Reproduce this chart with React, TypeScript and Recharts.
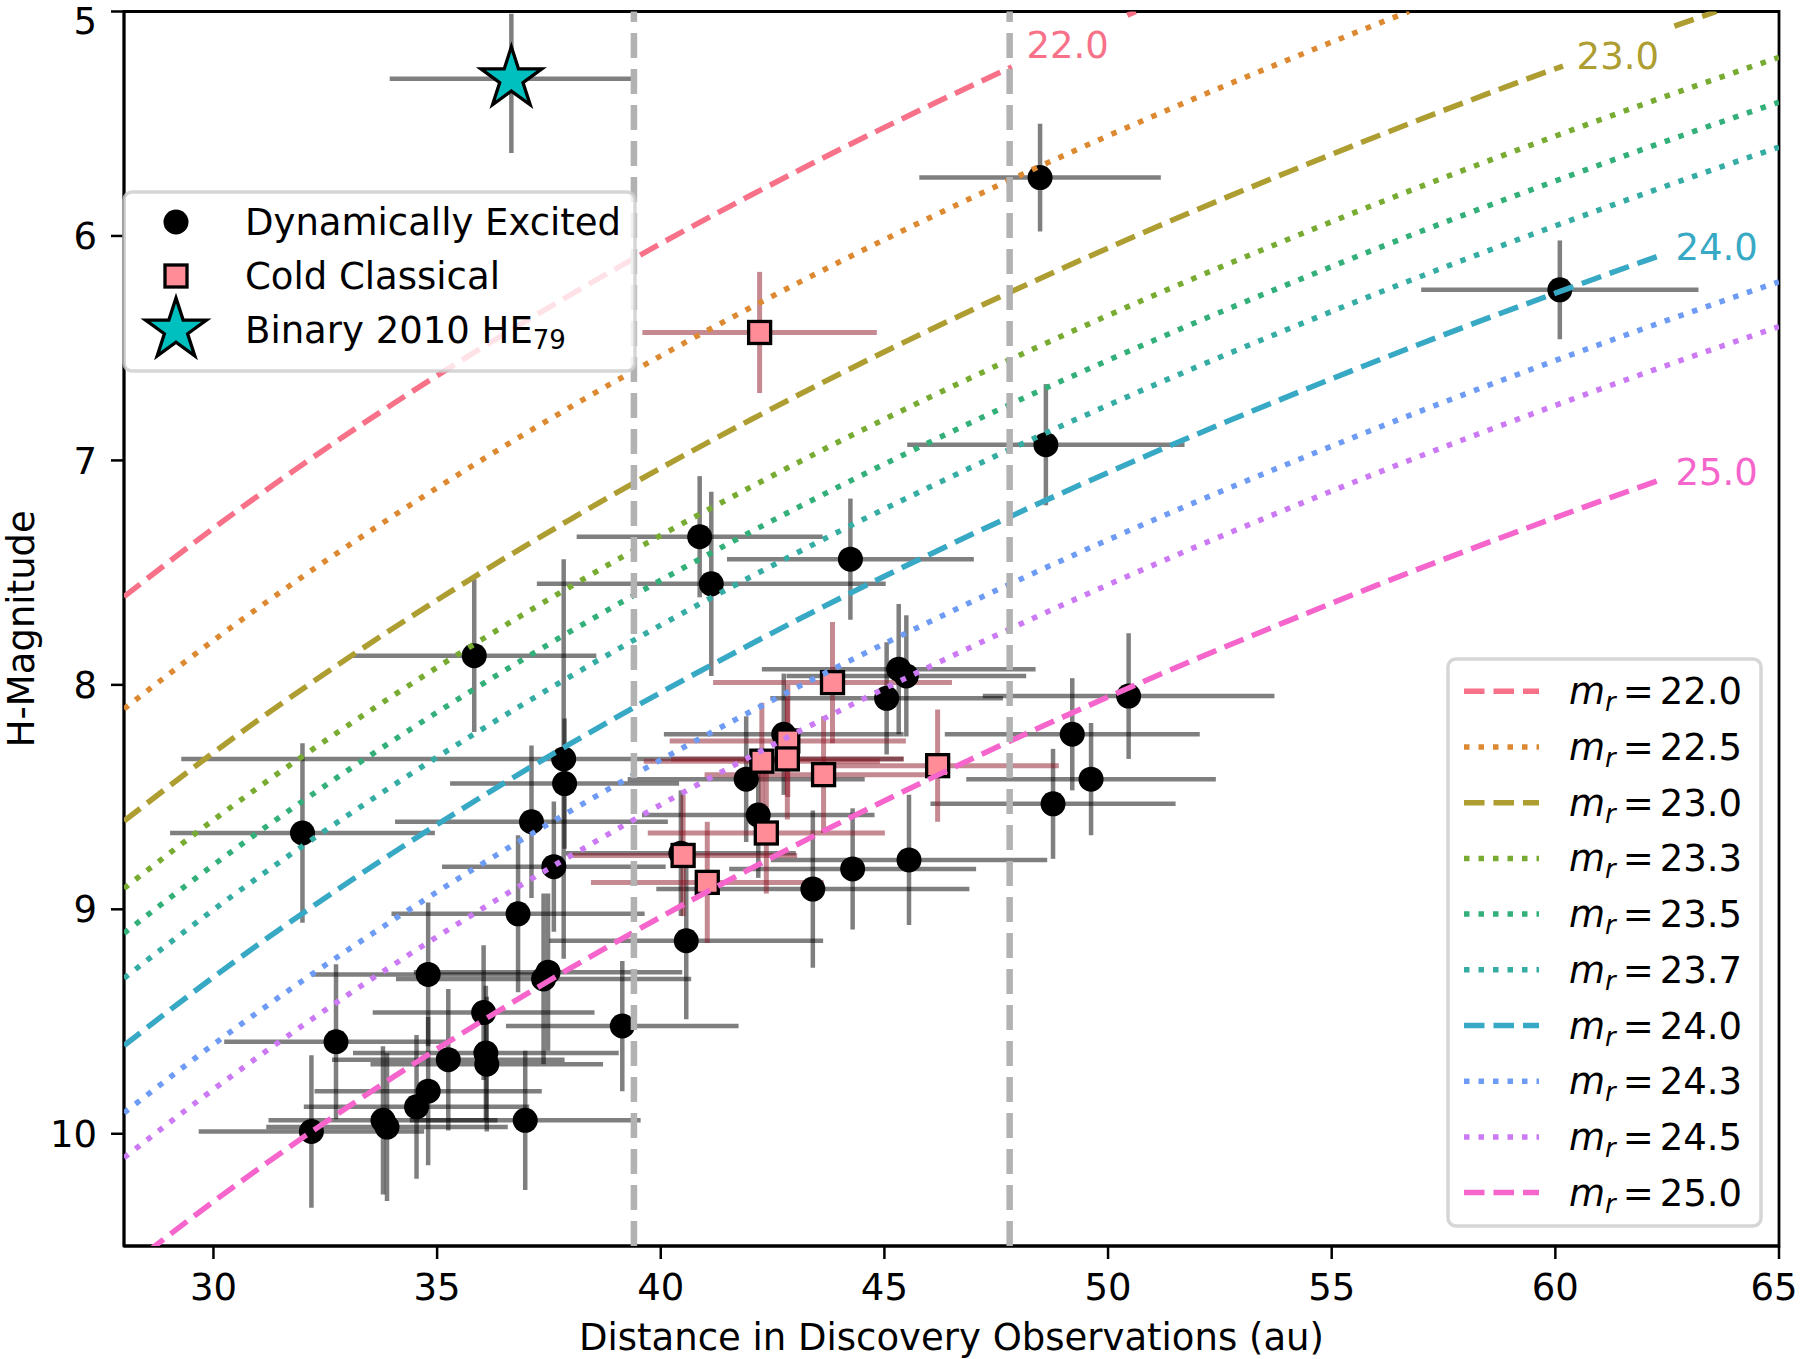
import React from 'react';
import {
  ComposedChart,
  Scatter,
  Line,
  XAxis,
  YAxis,
  ErrorBar,
  ReferenceLine,
  ReferenceArea,
  Legend,
} from 'recharts';

const FONT = "'DejaVu Sans', 'Liberation Sans', sans-serif";
const FS = 37;

// ---------------- data ----------------
// Dynamically excited objects
const excitedDist = [
  48.48, 60.1, 48.61, 40.87, 44.24, 41.13, 35.83, 45.32, 45.49, 45.05,
  50.46, 49.2, 49.62, 48.77, 45.55, 44.29, 43.4, 42.75, 41.91, 42.18,
  40.45, 40.57, 37.83, 37.85, 37.11, 37.61, 31.99, 36.81, 34.8, 37.38,
  37.48, 36.04, 39.14, 32.74, 35.25, 36.09, 36.11, 34.8, 34.54, 33.79,
  33.88, 36.97, 32.19,
];
const excitedH = [
  5.74, 6.24, 6.93, 7.34, 7.44, 7.55, 7.87, 7.93, 7.96, 8.06,
  8.05, 8.22, 8.42, 8.53, 8.78, 8.82, 8.91, 8.22, 8.42, 8.58,
  8.75, 9.14, 8.33, 8.44, 8.61, 8.81, 8.66, 9.02, 9.29, 9.31,
  9.28, 9.46, 9.52, 9.59, 9.67, 9.64, 9.69, 9.81, 9.88, 9.94,
  9.97, 9.94, 9.99,
];
const excitedDistErr: (number | [number, number])[] = [
  2.7, 3.1, 3.1, 2.75, 2.76, 3.9, 2.73, 3.06, 2.68, 2.6,
  3.26, 2.85, 2.79, 2.74, 3.09, 2.76, 3.5, 2.68, 2.65, 2.6,
  2.57, 3.06, [8.55, 7.6], 2.56, 3.05, 2.5, 2.96, 2.83, 2.6, 3.3,
  3.0, 2.48, 2.6, 2.5, 2.6, 2.97, 2.6, 2.54, 2.52, 2.56,
  2.7, 2.58, 2.52,
];
const excitedHErr = [
  0.24, 0.22, 0.27, 0.27, 0.27, 0.41, 0.34, 0.29, 0.27, 0.25,
  0.28, 0.25, 0.25, 0.245, 0.29, 0.27, 0.35, 0.27, 0.28, 0.28,
  0.28, 0.35, 0.89, 0.29, 0.34, 0.29, 0.4, 0.35, 0.32, 0.38,
  0.35, 0.3, 0.29, 0.345, 0.315, 0.3, 0.3, 0.33, 0.32, 0.33,
  0.33, 0.31, 0.34,
];

// Cold classical objects
const coldDist = [42.21, 43.84, 42.84, 42.26, 42.83, 43.64, 46.19, 42.36, 40.5, 41.04];
const coldH = [6.43, 7.99, 8.25, 8.34, 8.33, 8.4, 8.36, 8.66, 8.76, 8.88];
const coldDistErr = [2.62, 2.67, 2.64, 2.64, 2.6, 2.66, 2.71, 2.65, 2.55, 2.6];
const coldHErr = [0.27, 0.27, 0.25, 0.26, 0.27, 0.26, 0.25, 0.27, 0.27, 0.27];

// Binary 2010 HE79
const binaryDist = [36.66];
const binaryH = [5.3];
const binaryDistErr = [2.72];
const binaryHErr: [number, number][] = [[0.29, 0.33]];

// axes
const distTicks = [30, 35, 40, 45, 50, 55, 60, 65];
const hTicks = [5, 6, 7, 8, 9, 10];
const distDomain = [28, 65];
const hDomain = [5, 10.5];
const boundaryDist = [39.4, 47.8];

// constant apparent-magnitude curves
const mr220Dist = [28, 30, 32, 34, 36, 38, 40, 42, 44, 46, 47.85];
const mr220H = [7.607, 7.302, 7.017, 6.75, 6.498, 6.26, 6.034, 5.82, 5.615, 5.42, 5.247];
const mr220bDist = [50.43, 50.62];
const mr220bH = [5.017, 5.0];

const mr225Dist = [28, 30, 32, 34, 36, 38, 40, 42, 44, 46, 48, 50, 52, 54, 56, 56.73];
const mr225H = [8.107, 7.802, 7.517, 7.25, 6.998, 6.76, 6.534, 6.32, 6.115, 5.92, 5.733, 5.554, 5.382, 5.217, 5.057, 5.0];

const mr230Dist = [28, 30, 32, 34, 36, 38, 40, 42, 44, 46, 48, 50, 52, 54, 56, 58, 60, 60.17];
const mr230H = [8.607, 8.302, 8.017, 7.75, 7.498, 7.26, 7.034, 6.82, 6.615, 6.42, 6.233, 6.054, 5.882, 5.717, 5.557, 5.403, 5.255, 5.243];
const mr230bDist = [62.66, 63.6];
const mr230bH = [5.065, 5.0];

const fullDist = [28, 30, 32, 34, 36, 38, 40, 42, 44, 46, 48, 50, 52, 54, 56, 58, 60, 62, 64, 65];
const mr233H = [8.907, 8.602, 8.317, 8.05, 7.798, 7.56, 7.334, 7.12, 6.915, 6.72, 6.533, 6.354, 6.182, 6.017, 5.857, 5.703, 5.555, 5.411, 5.272, 5.204];
const mr235H = [9.107, 8.802, 8.517, 8.25, 7.998, 7.76, 7.534, 7.32, 7.115, 6.92, 6.733, 6.554, 6.382, 6.217, 6.057, 5.903, 5.755, 5.611, 5.472, 5.404];
const mr237H = [9.307, 9.002, 8.717, 8.45, 8.198, 7.96, 7.734, 7.52, 7.315, 7.12, 6.933, 6.754, 6.582, 6.417, 6.257, 6.103, 5.955, 5.811, 5.672, 5.604];
const mr243H = [9.907, 9.602, 9.317, 9.05, 8.798, 8.56, 8.334, 8.12, 7.915, 7.72, 7.533, 7.354, 7.182, 7.017, 6.857, 6.703, 6.555, 6.411, 6.272, 6.204];
const mr245H = [10.107, 9.802, 9.517, 9.25, 8.998, 8.76, 8.534, 8.32, 8.115, 7.92, 7.733, 7.554, 7.382, 7.217, 7.057, 6.903, 6.755, 6.611, 6.472, 6.404];

const labeledDist = [28, 30, 32, 34, 36, 38, 40, 42, 44, 46, 48, 50, 52, 54, 56, 58, 60, 62, 62.3];
const mr240H = [9.607, 9.302, 9.017, 8.75, 8.498, 8.26, 8.034, 7.82, 7.615, 7.42, 7.233, 7.054, 6.882, 6.717, 6.557, 6.403, 6.255, 6.111, 6.09];
const mr250H = [10.607, 10.302, 10.017, 9.75, 9.498, 9.26, 9.034, 8.82, 8.615, 8.42, 8.233, 8.054, 7.882, 7.717, 7.557, 7.403, 7.255, 7.111, 7.09];

// inline curve labels
const curveLabelText = ['22.0', '23.0', '24.0', '25.0'];
const curveLabelDist = [48.22, 60.52, 62.73, 62.73];
const curveLabelH = [5.145, 5.198, 6.047, 7.05];

// ---------------- helpers / styles ----------------
const zip = (xs: number[], ys: number[]) => xs.map((x, i) => ({ x, y: ys[i] }));

const excitedData = excitedDist.map((x, i) => ({ x, y: excitedH[i], ex: excitedDistErr[i], ey: excitedHErr[i] }));
const coldData = coldDist.map((x, i) => ({ x, y: coldH[i], ex: coldDistErr[i], ey: coldHErr[i] }));
const binaryData = binaryDist.map((x, i) => ({ x, y: binaryH[i], ex: binaryDistErr[i], ey: binaryHErr[i] }));
const labelData = curveLabelText.map((t, i) => ({ x: curveLabelDist[i], y: curveLabelH[i], text: t }));

const DASH = '20.5 9';
const DOT = '5.5 9';
const LW = 5.5;

const curves = [
  { name: '22.0', color: '#f77189', dash: DASH, segs: [zip(mr220Dist, mr220H), zip(mr220bDist, mr220bH)] },
  { name: '22.5', color: '#dc8932', dash: DOT, segs: [zip(mr225Dist, mr225H)] },
  { name: '23.0', color: '#ae9d31', dash: DASH, segs: [zip(mr230Dist, mr230H), zip(mr230bDist, mr230bH)] },
  { name: '23.3', color: '#77ab31', dash: DOT, segs: [zip(fullDist, mr233H)] },
  { name: '23.5', color: '#33b07a', dash: DOT, segs: [zip(fullDist, mr235H)] },
  { name: '23.7', color: '#36ada4', dash: DOT, segs: [zip(fullDist, mr237H)] },
  { name: '24.0', color: '#38a9c5', dash: DASH, segs: [zip(labeledDist, mr240H)] },
  { name: '24.3', color: '#6e9bf4', dash: DOT, segs: [zip(fullDist, mr243H)] },
  { name: '24.5', color: '#cc7af4', dash: DOT, segs: [zip(fullDist, mr245H)] },
  { name: '25.0', color: '#f565cc', dash: DASH, segs: [zip(labeledDist, mr250H)] },
];
const colorOf: Record<string, string> = {};
curves.forEach((c) => (colorOf[c.name] = c.color));

const SQUARE_FILL = '#ff8c96';
const STAR_FILL = '#00bfbf';
const BLACK_BAR = 'rgba(0,0,0,0.5)';
const PINK_BAR = 'rgba(140,20,35,0.5)';

function starPoints(cx: number, cy: number, R: number) {
  const r = R * 0.381966;
  const pts: string[] = [];
  for (let i = 0; i < 10; i++) {
    const a = -Math.PI / 2 + (i * Math.PI) / 5;
    const rad = i % 2 === 0 ? R : r;
    pts.push(`${(cx + rad * Math.cos(a)).toFixed(2)},${(cy + rad * Math.sin(a)).toFixed(2)}`);
  }
  return pts.join(' ');
}

const NoMarker = () => <g />;
const CircleMarker = (p: any) =>
  p.cx == null ? <g /> : <circle cx={p.cx} cy={p.cy} r={12.5} fill="#000" />;
const SquareMarker = (p: any) =>
  p.cx == null ? <g /> : (
    <rect x={p.cx - 11} y={p.cy - 11} width={22} height={22} fill={SQUARE_FILL} stroke="#000" strokeWidth={3.3} />
  );
const StarMarker = (p: any) =>
  p.cx == null ? <g /> : (
    <polygon points={starPoints(p.cx, p.cy, 32)} fill={STAR_FILL} stroke="#000" strokeWidth={3.3} strokeLinejoin="miter" />
  );
const CurveLabel = (p: any) => {
  if (p.cx == null) return <g />;
  const t = (p.payload && p.payload.text) || p.text;
  return (
    <text x={p.cx - 2} y={p.cy + 13.5} fill={colorOf[t]} fontSize={FS} fontFamily={FONT}>
      {t}
    </text>
  );
};

const XTick = (p: any) => {
  const x = Math.min(p.x, 1774);
  return (
    <text x={x} y={p.y} dy="0.71em" textAnchor="middle" fill="#000" fontSize={FS} fontFamily={FONT}>
      {p.payload && p.payload.value}
    </text>
  );
};
const YTick = (p: any) => {
  const y = Math.max(p.y, 21);
  return (
    <text x={p.x} y={y} dy="0.355em" textAnchor="end" fill="#000" fontSize={FS} fontFamily={FONT}>
      {p.payload && p.payload.value}
    </text>
  );
};

const XTitle = (props: any) => {
  const vb = props.viewBox || { x: 124, y: 1246, width: 1655, height: 113 };
  return (
    <text x={vb.x + vb.width / 2} y={vb.y + 104} textAnchor="middle" fontSize={FS} fontFamily={FONT} fill="#000">
      Distance in Discovery Observations (au)
    </text>
  );
};
const YTitle = (props: any) => {
  const vb = props.viewBox || { x: 0, y: 11.5, width: 124, height: 1234.5 };
  const x = vb.x + 34;
  const y = vb.y + vb.height / 2;
  return (
    <text x={x} y={y} textAnchor="middle" fontSize={FS} fontFamily={FONT} fill="#000" transform={`rotate(-90, ${x}, ${y})`}>
      H-Magnitude
    </text>
  );
};

const LegendOverlay = () => {
  const l2top = 659;
  return (
    <svg width={1800} height={1359} style={{ position: 'absolute', left: 0, top: 0, pointerEvents: 'none' }}>
      {/* marker legend */}
      <rect x={124} y={192} width={511} height={179} rx={8} fill="#fff" fillOpacity={0.8} stroke="#cccccc" strokeOpacity={0.8} strokeWidth={3.5} />
      <circle cx={176} cy={222} r={12.5} fill="#000" />
      <rect x={165} y={265} width={22} height={22} fill={SQUARE_FILL} stroke="#000" strokeWidth={3.3} />
      <polygon points={starPoints(176, 330, 32)} fill={STAR_FILL} stroke="#000" strokeWidth={3.3} />
      <text x={245} y={235} fontSize={FS} fontFamily={FONT} fill="#000">Dynamically Excited</text>
      <text x={245} y={289} fontSize={FS} fontFamily={FONT} fill="#000">Cold Classical</text>
      <text x={245} y={343} fontSize={FS} fontFamily={FONT} fill="#000">
        Binary 2010 HE
        <tspan fontSize={26} dy={6}>79</tspan>
      </text>
      {/* curve legend */}
      <rect x={1448} y={l2top} width={313} height={567} rx={8} fill="#fff" fillOpacity={0.8} stroke="#cccccc" strokeOpacity={0.8} strokeWidth={3.5} />
      {curves.map((c, i) => {
        const cy = 691.3 + 55.7 * i;
        return (
          <g key={c.name}>
            <line x1={1464} x2={1539} y1={cy} y2={cy} stroke={c.color} strokeWidth={LW} strokeDasharray={c.dash} />
            <text x={1569} y={cy + 13} fontSize={FS} fontFamily={FONT} fill="#000">
              <tspan fontStyle="italic">m</tspan>
              <tspan fontStyle="italic" fontSize={26} dy={7}>r</tspan>
              <tspan dy={-7} dx={7}>=</tspan>
              <tspan dx={6}>{c.name}</tspan>
            </text>
          </g>
        );
      })}
    </svg>
  );
};

export default function App() {
  return (
    <div style={{ position: 'absolute', left: 0, top: 0, width: 1800, height: 1359, background: '#fff' }}>
      <ComposedChart width={1800} height={1359} margin={{ top: 11.5, right: 21, bottom: 0, left: 0 }}>
        <XAxis
          type="number"
          dataKey="x"
          domain={distDomain}
          ticks={distTicks}
          interval={0}
          allowDataOverflow
          height={113}
          tickSize={13}
          tickMargin={15}
          axisLine={{ stroke: '#000', strokeWidth: 2.8 }}
          tickLine={{ stroke: '#000', strokeWidth: 2.5 }}
          tick={<XTick />}
          label={<XTitle />}
        />
        <YAxis
          type="number"
          dataKey="y"
          domain={hDomain}
          ticks={hTicks}
          interval={0}
          reversed
          allowDataOverflow
          width={124}
          tickSize={13}
          tickMargin={14}
          axisLine={{ stroke: '#000', strokeWidth: 2.8 }}
          tickLine={{ stroke: '#000', strokeWidth: 2.5 }}
          tick={<YTick />}
          label={<YTitle />}
        />
        <ReferenceArea x1={distDomain[0]} x2={distDomain[1]} y1={hDomain[0]} y2={hDomain[1]} fill="none" fillOpacity={0} stroke="#000" strokeWidth={2.8} ifOverflow="visible" />

        {/* error bars (drawn beneath every marker) */}
        <Scatter data={excitedData} shape={NoMarker} isAnimationActive={false} legendType="none">
          <ErrorBar dataKey="ex" direction="x" width={0} stroke={BLACK_BAR} strokeWidth={4.5} isAnimationActive={false} />
          <ErrorBar dataKey="ey" direction="y" width={0} stroke={BLACK_BAR} strokeWidth={4.5} isAnimationActive={false} />
        </Scatter>
        <Scatter data={coldData} shape={NoMarker} isAnimationActive={false} legendType="none">
          <ErrorBar dataKey="ex" direction="x" width={0} stroke={PINK_BAR} strokeWidth={5} isAnimationActive={false} />
          <ErrorBar dataKey="ey" direction="y" width={0} stroke={PINK_BAR} strokeWidth={5} isAnimationActive={false} />
        </Scatter>
        <Scatter data={binaryData} shape={NoMarker} isAnimationActive={false} legendType="none">
          <ErrorBar dataKey="ex" direction="x" width={0} stroke={BLACK_BAR} strokeWidth={4.5} isAnimationActive={false} />
          <ErrorBar dataKey="ey" direction="y" width={0} stroke={BLACK_BAR} strokeWidth={4.5} isAnimationActive={false} />
        </Scatter>

        {/* markers */}
        <Scatter name="Dynamically Excited" data={excitedData} shape={CircleMarker} isAnimationActive={false} />
        <Scatter name="Cold Classical" data={coldData} shape={SquareMarker} isAnimationActive={false} />
        <Scatter name="Binary 2010 HE79" data={binaryData} shape={StarMarker} isAnimationActive={false} />

        {/* constant magnitude curves */}
        {curves.flatMap((c) =>
          c.segs.map((seg, j) => (
            <Line
              key={`${c.name}-${j}`}
              data={seg}
              dataKey="y"
              type="monotone"
              stroke={c.color}
              strokeWidth={LW}
              strokeDasharray={c.dash}
              dot={false}
              activeDot={false}
              isAnimationActive={false}
              legendType="none"
              zIndex={700}
            />
          ))
        )}

        {boundaryDist.map((d) => (
          <ReferenceLine key={d} x={d} stroke="#b2b2b2" strokeWidth={6.5} strokeDasharray="25 11" zIndex={710} />
        ))}

        <Scatter data={labelData} shape={CurveLabel} isAnimationActive={false} legendType="none" zIndex={800} />

        <Legend
          layout="vertical"
          align="center"
          verticalAlign="middle"
          content={() => <LegendOverlay />}
          wrapperStyle={{ position: 'absolute', left: 0, top: 0, width: 1800, height: 1359, pointerEvents: 'none' }}
        />
      </ComposedChart>
    </div>
  );
}
